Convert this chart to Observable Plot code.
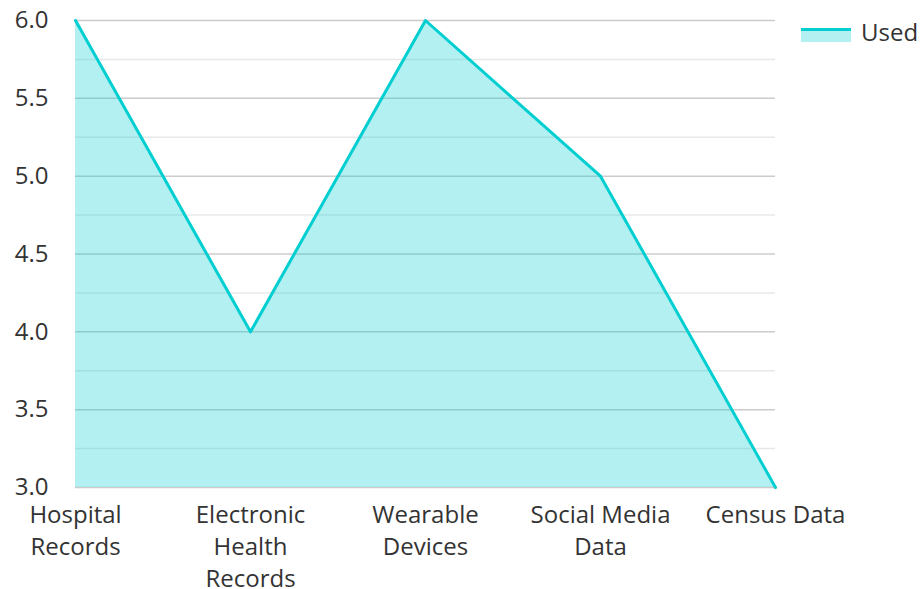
<!DOCTYPE html>
<html>
<head>
<meta charset="utf-8">
<script src="https://cdn.jsdelivr.net/npm/d3@7"></script>
<script src="https://cdn.jsdelivr.net/npm/@observablehq/plot@0.6"></script>
<style>
  html, body { margin: 0; padding: 0; background: #fff; }
  #wrap { position: relative; width: 920px; height: 589px; font-family: "Open Sans", sans-serif; }
  #legend { position: absolute; left: 801px; top: 15px; display: flex; align-items: center; font-size: 24px; color: #333; }
  #legend .sw { width: 50px; height: 14px; background: rgba(0,206,209,0.3); border-top: 3px solid #00CED1; margin-right: 10px; box-sizing: border-box; margin-top: 6px; }
</style>
</head>
<body>
<div id="wrap"><div id="legend"><span class="sw"></span><span>Used</span></div></div>
<script>
const categories = ["Hospital Records", "Electronic Health Records", "Wearable Devices", "Social Media Data", "Census Data"];
const tickLabels = ["Hospital\nRecords", "Electronic\nHealth\nRecords", "Wearable\nDevices", "Social Media\nData", "Census Data"];
const usedValues = [6, 4, 6, 5, 3];
const majorTicks = [3.0, 3.5, 4.0, 4.5, 5.0, 5.5, 6.0];
const minorTicks = [3.25, 3.75, 4.25, 4.75, 5.25, 5.75];
const yMin = 3, yMax = 6;

const data = categories.map((c, i) => ({cat: c, value: usedValues[i]}));
const labelOf = new Map(categories.map((c, i) => [c, tickLabels[i]]));

const chart = Plot.plot({
  width: 920,
  height: 589,
  marginLeft: 75,
  marginRight: 145,
  marginTop: 20,
  marginBottom: 102,
  style: {fontFamily: "Open Sans, sans-serif", fontSize: "24px", color: "#333", background: "transparent"},
  x: {type: "point", domain: categories, padding: 0},
  y: {domain: [yMin, yMax]},
  marks: [
    Plot.ruleY(minorTicks, {stroke: "#e8e8e8", strokeWidth: 1.5}),
    Plot.ruleY(majorTicks, {stroke: "#cccccc", strokeWidth: 1.5}),
    Plot.areaY(data, {x: "cat", y1: () => yMin, y2: "value", fill: "#00CED1", fillOpacity: 0.3}),
    Plot.line(data, {x: "cat", y: "value", stroke: "#00CED1", strokeWidth: 3}),
    Plot.axisY(majorTicks, {tickSize: 0, tickPadding: 27, tickFormat: d3.format(".1f"), label: null, fill: "#333", fontSize: 24}),
    Plot.axisX({tickSize: 0, tickPadding: 13, tickFormat: d => labelOf.get(d), label: null, fill: "#333", fontSize: 24, lineHeight: 1.33})
  ]
});
document.getElementById("wrap").appendChild(chart);
chart.style.position = "absolute";
chart.style.left = "0";
chart.style.top = "0";
</script>
</body>
</html>
